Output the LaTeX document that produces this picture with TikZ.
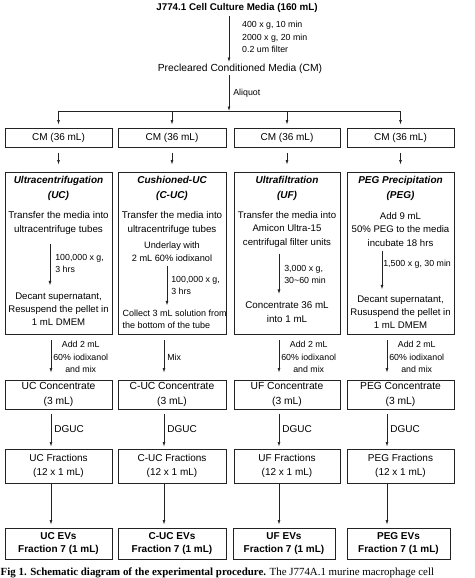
\documentclass[tikz,border=0pt]{standalone}
\usepackage{fontspec}
\setmainfont{Liberation Sans}
\newfontfamily\capfont{Liberation Serif}
\usepackage{xcolor}
\definecolor{lineGray}{RGB}{35, 35, 35}
\usetikzlibrary{arrows.meta, positioning, calc}
\tikzset{
    base/.style={draw=lineGray, line width=1pt, align=center, inner sep=0pt, text=black, font=\fontsize{10}{14.5}\selectfont},
    stage/.style={base, minimum width=107pt},
    panel/.style={base, minimum width=107pt, minimum height=162pt},
    headText/.style={font=\bfseries\fontsize{9.8}{12}\selectfont, inner sep=1pt},
    bodyText/.style={align=center, inner sep=1pt, font=\fontsize{9.8}{13.8}\selectfont},
    methodText/.style={bodyText, font=\bfseries\itshape\fontsize{10}{15}\selectfont},
    stepText/.style={align=left, inner sep=1pt, font=\fontsize{8.8}{12.3}\selectfont},
    arrow/.style={-{Latex[length=4.5pt,width=3pt]}, line width=0.7pt, draw=lineGray}
}

\begin{document}
\begin{tikzpicture}[x=1pt, y=-1pt]
    \useasboundingbox (0,0) rectangle (474,578);
    \clip (0,0) rectangle (474,578);

    % --- SOURCE ---
    \node[headText] (culture) at (237,8) {J774.1 Cell Culture Media (160 mL)};
    \coordinate (spine) at (229,0);
    \node[stepText, anchor=west] (spin) at (241,37) {400 x g, 10 min\\2000 x g, 20 min\\0.2 um filter};
    \node[bodyText, font=\fontsize{10.3}{12}\selectfont] (precleared) at (240,69) {Precleared Conditioned Media (CM)};
    \draw[arrow, shorten <=2pt, shorten >=1pt] (culture.south -| spine) -- (precleared.north -| spine);
    \coordinate (split) at (229,111);
    \draw[arrow] (precleared.south -| spine) -- node[stepText, right=3pt]{Aliquot} (split);

    % --- ALIQUOTS ---
    \node[stage, minimum height=19pt] (cm1) at (58.5,137.5) {CM (36 mL)};
    \node[stage, minimum height=19pt, minimum width=108pt] (cm2) at (172,137.5) {CM (36 mL)};
    \node[stage, minimum height=19pt, minimum width=106pt] (cm3) at (287,137.5) {CM (36 mL)};
    \node[stage, minimum height=19pt] (cm4) at (400.5,137.5) {CM (36 mL)};
    \draw[line width=0.7pt, draw=lineGray] (cm1.north |- split) -- (cm4.north |- split);
    \draw[arrow, shorten >=3pt] (cm1.north |- split) -- (cm1.north);
    \draw[arrow, shorten >=3pt] (cm2.north |- split) -- (cm2.north);
    \draw[arrow, shorten >=3pt] (cm3.north |- split) -- (cm3.north);
    \draw[arrow, shorten >=3pt] (cm4.north |- split) -- (cm4.north);

    % --- ISOLATION PANELS ---
    \node[panel] (ucBox) at (58.5,253) {};
    \node[panel, minimum width=108pt] (cucBox) at (172,253) {};
    \node[panel, minimum width=106pt] (ufBox) at (287,253) {};
    \node[panel] (pegBox) at (400.5,253) {};
    \draw[arrow, shorten <=5pt, shorten >=7pt] (cm1) -- (ucBox);
    \draw[arrow, shorten <=5pt, shorten >=7pt] (cm2) -- (cucBox);
    \draw[arrow, shorten <=5pt, shorten >=7pt] (cm3) -- (ufBox);
    \draw[arrow, shorten <=5pt, shorten >=7pt] (cm4) -- (pegBox);

    % ultracentrifugation
    \node[methodText] (ucTitle) at (58.5,188.5) {Ultracentrifugation\\(UC)};
    \node[bodyText] (ucLoad) at (58.5,223) {Transfer the media into\\ultracentrifuge tubes};
    \node[bodyText, font=\fontsize{9.6}{13.2}\selectfont] (ucPellet) at (58.5,309) {Decant supernatant,\\Resuspend the pellet in\\1 mL DMEM};
    \coordinate (ucSpin) at (50,0);
    \draw[arrow, shorten <=8pt, shorten >=6pt] (ucLoad.south -| ucSpin) -- node[stepText, right=4pt]{100,000 x g,\\3 hrs} (ucPellet.north -| ucSpin);

    % cushioned ultracentrifugation
    \node[methodText] (cucTitle) at (172,188.5) {Cushioned-UC\\(C-UC)};
    \node[bodyText] (cucLoad) at (172,223) {Transfer the media into\\ultracentrifuge tubes};
    \node[bodyText, font=\fontsize{9.2}{13}\selectfont] (cucCushion) at (172,251.5) {Underlay with\\2 mL 60\% iodixanol};
    \node[stepText, font=\fontsize{9}{12.3}\selectfont, anchor=west] (cucCollect) at (121.5,319) {Collect 3 mL solution from\\the bottom of the tube};
    \coordinate (cucSpin) at (167,0);
    \draw[arrow, shorten <=3pt, shorten >=3pt] (cucCushion.south -| cucSpin) -- node[stepText, right=3pt]{100,000 x g,\\3 hrs} (cucCollect.north -| cucSpin);

    % ultrafiltration
    \node[methodText] (ufTitle) at (287,188.5) {Ultrafiltration\\(UF)};
    \node[bodyText, font=\fontsize{9.6}{13.5}\selectfont] (ufLoad) at (287,229.5) {Transfer the media into\\Amicon Ultra-15\\centrifugal filter units};
    \node[bodyText] (ufConcentrate) at (287,312.5) {Concentrate 36 mL\\into 1 mL};
    \coordinate (ufSpin) at (279,0);
    \draw[arrow, shorten <=5pt, shorten >=7pt] (ufLoad.south -| ufSpin) -- node[stepText, right=4pt]{3,000 x g,\\30\textasciitilde60 min} (ufConcentrate.north -| ufSpin);

    % PEG precipitation
    \node[methodText] (pegTitle) at (400.5,188.5) {PEG Precipitation\\(PEG)};
    \node[bodyText, font=\fontsize{9.6}{13.5}\selectfont] (pegMix) at (400.5,229.5) {Add 9 mL\\50\% PEG to the media\\incubate 18 hrs};
    \node[bodyText, font=\fontsize{9.6}{13.2}\selectfont] (pegPellet) at (400.5,312) {Decant supernatant,\\Rususpend the pellet in\\1 mL DMEM};
    \coordinate (pegSpin) at (382,0);
    \draw[arrow, shorten <=3pt, shorten >=5pt] (pegMix.south -| pegSpin) -- node[stepText, pos=0.35, right=0pt]{1,500 x g, 30 min} (pegPellet.north -| pegSpin);

    % --- CONCENTRATES ---
    \node[stage, minimum height=29pt, font=\fontsize{10.3}{15}\selectfont] (ucConc) at (58.5,394.5) {UC Concentrate\\(3 mL)};
    \node[stage, minimum height=29pt, minimum width=108pt, font=\fontsize{10.3}{15}\selectfont] (cucConc) at (172,394.5) {C-UC Concentrate\\(3 mL)};
    \node[stage, minimum height=29pt, minimum width=106pt, font=\fontsize{10.3}{15}\selectfont] (ufConc) at (287,394.5) {UF Concentrate\\(3 mL)};
    \node[stage, minimum height=29pt, font=\fontsize{10.3}{15}\selectfont] (pegConc) at (400.5,394.5) {PEG Concentrate\\(3 mL)};
    \coordinate (colA) at (51,0);
    \coordinate (colB) at (164,0);
    \coordinate (colC) at (279,0);
    \coordinate (colD) at (387,0);
    \draw[arrow, shorten <=5pt, shorten >=7pt] (ucBox.south -| colA) -- node[stepText, align=center, right=1pt]{Add 2 mL\\60\% iodixanol\\and mix} (ucConc.north -| colA);
    \draw[arrow, shorten <=5pt, shorten >=7pt] (cucBox.south -| colB) -- node[stepText, right=2pt]{Mix} (cucConc.north -| colB);
    \draw[arrow, shorten <=5pt, shorten >=7pt] (ufBox.south -| colC) -- node[stepText, align=center, right=1pt]{Add 2 mL\\60\% iodixanol\\and mix} (ufConc.north -| colC);
    \draw[arrow, shorten <=5pt, shorten >=7pt] (pegBox.south -| colD) -- node[stepText, align=center, right=1pt]{Add 2 mL\\60\% iodixanol\\and mix} (pegConc.north -| colD);

    % --- DENSITY GRADIENT FRACTIONS ---
    \node[stage, minimum height=34pt] (ucFrac) at (58.5,466) {UC Fractions\\(12 x 1 mL)};
    \node[stage, minimum height=34pt, minimum width=108pt] (cucFrac) at (172,466) {C-UC Fractions\\(12 x 1 mL)};
    \node[stage, minimum height=34pt, minimum width=106pt] (ufFrac) at (287,466) {UF Fractions\\(12 x 1 mL)};
    \node[stage, minimum height=34pt] (pegFrac) at (400.5,466) {PEG Fractions\\(12 x 1 mL)};
    \draw[arrow, shorten <=4pt, shorten >=2pt] (ucConc.south -| colA) -- node[bodyText, font=\fontsize{10}{12}\selectfont, right=2pt]{DGUC} (ucFrac.north -| colA);
    \draw[arrow, shorten <=4pt, shorten >=2pt] (cucConc.south -| colB) -- node[bodyText, font=\fontsize{10}{12}\selectfont, right=2pt]{DGUC} (cucFrac.north -| colB);
    \draw[arrow, shorten <=4pt, shorten >=2pt] (ufConc.south -| colC) -- node[bodyText, font=\fontsize{10}{12}\selectfont, right=2pt]{DGUC} (ufFrac.north -| colC);
    \draw[arrow, shorten <=4pt, shorten >=2pt] (pegConc.south -| colD) -- node[bodyText, font=\fontsize{10}{12}\selectfont, right=2pt]{DGUC} (pegFrac.north -| colD);

    % --- EV FRACTIONS ---
    \node[stage, minimum height=31pt, font=\bfseries\fontsize{10}{13}\selectfont] (ucEV) at (58.5,543.5) {UC EVs\\Fraction 7 (1 mL)};
    \node[stage, minimum height=31pt, minimum width=108pt, font=\bfseries\fontsize{10}{13}\selectfont] (cucEV) at (172,543.5) {C-UC EVs\\Fraction 7 (1 mL)};
    \node[stage, minimum height=31pt, minimum width=102pt, font=\bfseries\fontsize{10}{13}\selectfont] (ufEV) at (284,543.5) {UF EVs\\Fraction 7 (1 mL)};
    \node[stage, minimum height=31pt, minimum width=103pt, font=\bfseries\fontsize{10}{13}\selectfont] (pegEV) at (398.5,543.5) {PEG EVs\\Fraction 7 (1 mL)};
    \draw[arrow, shorten >=3pt] (ucFrac.south -| colA) -- (ucEV.north -| colA);
    \draw[arrow, shorten >=3pt] (cucFrac.south -| colB) -- (cucEV.north -| colB);
    \draw[arrow, shorten >=3pt] (ufFrac.south -| colC) -- (ufEV.north -| colC);
    \draw[arrow, shorten >=3pt] (pegFrac.south -| colD) -- (pegEV.north -| colD);

    % Caption
    \node[anchor=base west, inner sep=0pt, font=\capfont\fontsize{10.9}{13}\selectfont] (caption) at (0.5,575) {\textbf{Fig 1. Schematic diagram of the experimental procedure.} The J774A.1 murine macrophage cell};

\end{tikzpicture}
\end{document}
